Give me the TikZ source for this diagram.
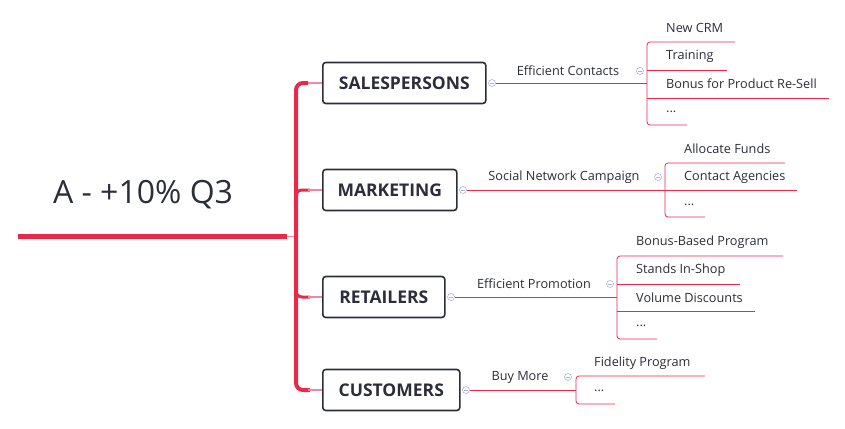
\documentclass[tikz,border=0pt]{standalone}
\usepackage{fontspec}
\setmainfont{Open Sans}
\definecolor{rd}{HTML}{E8294A}
\definecolor{pk}{HTML}{F0899B}
\definecolor{dk}{HTML}{2B2D3A}
\definecolor{cb}{HTML}{A9B4D8}
\tikzset{
  box/.style={draw=dk,line width=1.6pt,rounded corners=3pt,minimum height=41pt,inner xsep=0pt,font=\fontsize{17.5}{20}\selectfont\bfseries,text=dk,anchor=west},
  lbl/.style={font=\fontsize{12.7}{15}\selectfont,text=dk,inner sep=1pt},
  leaf/.style={font=\fontsize{12.7}{15}\selectfont,text=dk,inner sep=1pt,anchor=west},
  col/.style={draw=cb,fill=white,line width=0.6pt,circle,minimum size=7pt,inner sep=0pt},
  br/.style={draw=rd,line width=0.8pt}
}
\newcommand{\colmark}[2]{\node[col] (#1) at (#2) {}; \draw[cb,line width=0.6pt] ([xshift=-2pt]#1.center)--([xshift=2pt]#1.center);}
\begin{document}
\begin{tikzpicture}[x=1pt,y=-1pt]
\useasboundingbox (0,0) rectangle (845,428);
% root
\node[font=\fontsize{32}{38}\selectfont,text=dk] (root) at (143,195) {A - +10\% Q3};
\coordinate (ru) at (18,236); \coordinate (re) at (287,236);
\draw[rd,line width=5pt] (ru)--(re);
\draw[pk,line width=1pt] (re)--(296,236);
% boxes
\node[box,minimum width=163pt] (s) at (322,83) {SALESPERSONS};
\node[box,minimum width=134pt] (m) at (322,190) {MARKETING};
\node[box,minimum width=122pt] (r) at (322,297) {RETAILERS};
\node[box,minimum width=137pt] (c) at (322,390) {CUSTOMERS};
% trunk
\draw[rd,line width=4pt,rounded corners=7pt] (s.west)++(-14,0) coordinate(t1) -- (296,83) -- (296,390) -- (310,390);
\draw[rd,line width=3pt,rounded corners=6pt] (296,200)--(296,190)--(310,190);
\draw[rd,line width=3pt,rounded corners=6pt] (296,287)--(296,297)--(310,297);
\foreach \b in {s,m,r,c} \draw[pk,line width=1.5pt] ([xshift=-14pt]\b.west)--(\b.west);
% salespersons
\colmark{cs}{492,83}
\draw[br] (cs.east)--(647,83);
\node[lbl] (ls) at (568,71) {Efficient Contacts};
\colmark{ks}{640,71}
\draw[br,rounded corners=3pt] (735,42)--(647,42)--(647,125)--(687,125);
\draw[br] (647,70)--(727,70); \draw[br] (647,98)--(829,98);
\node[leaf] (s1) at (665,28) {New CRM};
\node[leaf] (s2) at (665,56) {Training};
\node[leaf] (s3) at (665,84) {Bonus for Product Re-Sell};
\node[leaf] (s4) at (665,112) {...};
% marketing
\colmark{cm}{463,190}
\draw[br] (cm.east)--(665,190);
\node[lbl] (lm) at (564,177) {Social Network Campaign};
\colmark{km}{658,177}
\draw[br,rounded corners=3pt] (785,163)--(665,163)--(665,217)--(705,217);
\draw[br] (665,190)--(797,190);
\node[leaf] (m1) at (683,149) {Allocate Funds};
\node[leaf] (m2) at (683,177) {Contact Agencies};
\node[leaf] (m3) at (683,205) {...};
% retailers
\colmark{cr}{451,297}
\draw[br] (cr.east)--(617,297);
\node[lbl] (lr) at (534,284) {Efficient Promotion};
\colmark{kr}{610,284}
\draw[br,rounded corners=3pt] (783,256)--(617,256)--(617,339)--(657,339);
\draw[br] (617,284)--(740,284); \draw[br] (617,311)--(755,311);
\node[leaf] (r1) at (635,242) {Bonus-Based Program};
\node[leaf] (r2) at (635,270) {Stands In-Shop};
\node[leaf] (r3) at (635,298) {Volume Discounts};
\node[leaf] (r4) at (635,326) {...};
% customers
\colmark{cc}{466,390}
\draw[br] (cc.east)--(576,390);
\node[lbl] (lc) at (520,377) {Buy More};
\colmark{kc}{568,377}
\draw[br,rounded corners=3pt] (705,376)--(576,376)--(576,404)--(615,404);
\node[leaf] (c1) at (593,363) {Fidelity Program};
\node[leaf] (c2) at (593,391) {...};
\end{tikzpicture}
\end{document}
